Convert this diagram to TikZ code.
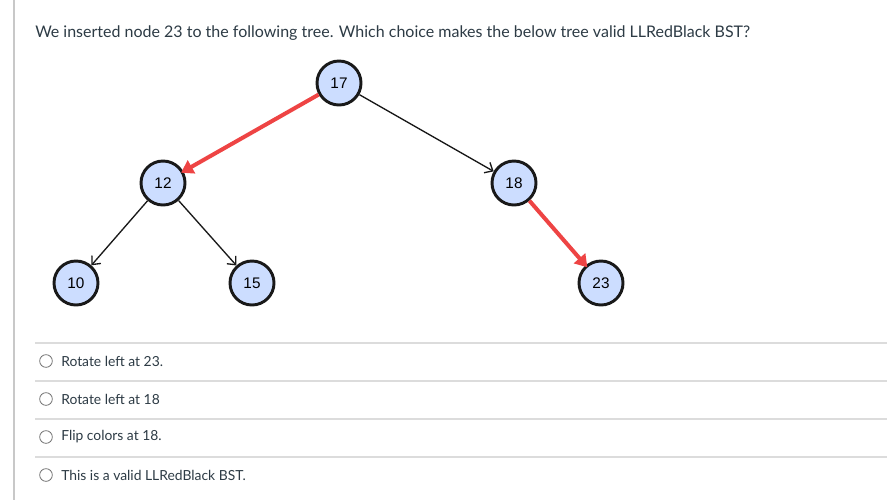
\documentclass[tikz,border=0pt]{standalone}
\usepackage{fontspec}
\setmainfont{Lato}
\newfontfamily\nodefont{Liberation Sans}
\usetikzlibrary{arrows.meta}
\definecolor{txt}{HTML}{2D3B45}
\definecolor{nodefill}{HTML}{CCDDFF}
\definecolor{redarrow}{HTML}{EE4444}
\definecolor{sepgray}{HTML}{DCDCDC}
\definecolor{leftgray}{HTML}{C8C8C8}
\tikzset{
  treenode/.style={circle, draw=black!90, line width=2.2pt, fill=nodefill, minimum size=33pt, inner sep=0pt, font=\nodefont\fontsize{11.5pt}{13pt}\selectfont},
  redlink/.style={draw=redarrow, line width=3pt, -{Triangle[length=9pt,width=11pt]}, shorten >=-2pt},
  blacklink/.style={draw=black!90, line width=1pt, -{Straight Barb[length=5pt,width=9pt]}},
  sepline/.style={draw=sepgray, line width=0.9pt},
  radio/.style={circle, draw=black!55, line width=0.6pt, minimum size=9.5pt, inner sep=0pt},
  optlabel/.style={anchor=west, text=txt, font=\fontsize{10.4pt}{12pt}\selectfont, inner sep=0pt},
}
\begin{document}
\begin{tikzpicture}[x=0.75pt, y=-0.75pt]
\useasboundingbox (0,0) rectangle (887,500);
\fill[white] (0,0) rectangle (887,500);
\draw[leftgray, line width=1.2pt] (14,0) -- (14,500);
\node[anchor=west, text=txt, font=\fontsize{12pt}{14pt}\selectfont, inner sep=0pt] (title) at (35,33) {We inserted node 23 to the following tree. Which choice makes the below tree valid LLRedBlack BST?};
% tree
\node[treenode] (n17) at (339,83) {17};
\node[treenode] (n12) at (163,183) {12};
\node[treenode] (n18) at (514,183) {18};
\node[treenode] (n10) at (76,283) {10};
\node[treenode] (n15) at (252,283) {15};
\node[treenode] (n23) at (601,283) {23};
\draw[redlink] (n17) -- (n12);
\draw[blacklink] (n17) -- (n18);
\draw[blacklink] (n12) -- (n10);
\draw[blacklink] (n12) -- (n15);
\draw[redlink] (n18) -- (n23);
% separators
\coordinate (s1a) at (35,343); \coordinate (s1b) at (887,343);
\coordinate (s2a) at (35,381); \coordinate (s2b) at (887,381);
\coordinate (s3a) at (35,419); \coordinate (s3b) at (887,419);
\coordinate (s4a) at (35,457); \coordinate (s4b) at (887,457);
\draw[sepline] (s1a) -- (s1b);
\draw[sepline] (s2a) -- (s2b);
\draw[sepline] (s3a) -- (s3b);
\draw[sepline] (s4a) -- (s4b);
% options
\node[radio] (r1) at (46,361) {};
\node[radio] (r2) at (46,399) {};
\node[radio] (r3) at (46,437) {};
\node[radio] (r4) at (46,475) {};
\node[optlabel] (o1) at (61,361) {Rotate left at 23.};
\node[optlabel] (o2) at (61,399) {Rotate left at 18};
\node[optlabel] (o3) at (61,437) {Flip colors at 18.};
\node[optlabel] (o4) at (61,475) {This is a valid LLRedBlack BST.};
\end{tikzpicture}
\end{document}
